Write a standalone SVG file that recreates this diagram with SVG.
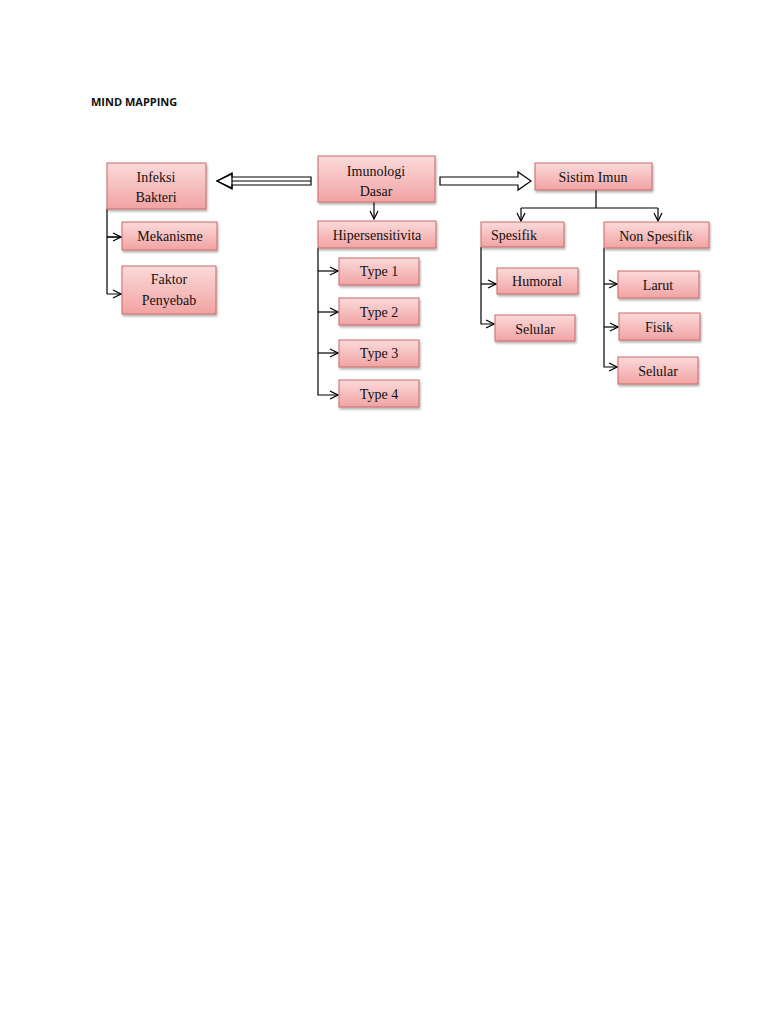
<svg xmlns="http://www.w3.org/2000/svg" width="768" height="1024" viewBox="0 0 768 1024">
<defs>
<linearGradient id="g" x1="0" y1="0" x2="0" y2="1"><stop offset="0" stop-color="#fbdada"/><stop offset="1" stop-color="#f2a3a3"/></linearGradient>
<marker id="a" markerWidth="10" markerHeight="10" refX="9" refY="5" orient="auto" markerUnits="userSpaceOnUse"><path d="M1,1 L9,5 L1,9" fill="none" stroke="#000" stroke-width="1.2"/></marker>
<filter id="s" x="-10%" y="-10%" width="130%" height="140%"><feDropShadow dx="1" dy="2" stdDeviation="1.2" flood-color="#000" flood-opacity="0.3"/></filter>
</defs>
<style>
.n rect{fill:url(#g);stroke:#c96a68;stroke-width:1;filter:url(#s)}
.n text{font-family:"Liberation Serif",serif;font-size:14px;fill:#111;text-anchor:middle}
.c path{fill:none;stroke:#000;stroke-width:1.2}
</style>
<rect width="768" height="1024" fill="#fff"/>
<text x="91" y="106" font-family="'Open Sans','Liberation Sans',sans-serif" font-size="11" font-weight="bold" fill="#111">MIND MAPPING</text>
<g class="c">
<path d="M107,209 V294 M107,237 H121 M107,294 H121" marker-end="url(#a)"/>
<path d="M107,237 H121" marker-end="url(#a)"/>
<path d="M374,202 V219" marker-end="url(#a)"/>
<path d="M318,248 V395 H338" marker-end="url(#a)"/>
<path d="M318,271 H338" marker-end="url(#a)"/>
<path d="M318,312 H338" marker-end="url(#a)"/>
<path d="M318,353 H338" marker-end="url(#a)"/>
<path d="M596,190 V208 M521,208 H658"/>
<path d="M521,208 V221" marker-end="url(#a)"/>
<path d="M658,208 V221" marker-end="url(#a)"/>
<path d="M481,247 V324 H494" marker-end="url(#a)"/>
<path d="M481,284 H496" marker-end="url(#a)"/>
<path d="M604,248 V367 H617" marker-end="url(#a)"/>
<path d="M604,284 H617" marker-end="url(#a)"/>
<path d="M604,327 H618" marker-end="url(#a)"/>
<path d="M311,181 H232 V174 L217,181 L232,188 V181" fill="#000" stroke="#000" stroke-width="0"/>
<path d="M311,177 H232 V173 L217,181 L232,189 V185 H311 Z" fill="#000" stroke="none"/>
<path d="M440,177 H518 V172 L531,181 L518,190 V185 H440 Z" fill="#000" stroke="none"/>
</g>
<g id="imunologi" class="n"><rect x="318" y="156" width="117" height="46"/><text x="376" y="176">Imunologi</text><text x="376" y="196">Dasar</text></g>
<g id="infeksi" class="n"><rect x="107" y="163" width="99" height="46"/><text x="156" y="182">Infeksi</text><text x="156" y="202">Bakteri</text></g>
<g id="mekanisme" class="n"><rect x="122" y="222" width="95" height="28"/><text x="170" y="241">Mekanisme</text></g>
<g id="faktor" class="n"><rect x="122" y="266" width="94" height="48"/><text x="169" y="284">Faktor</text><text x="169" y="305">Penyebab</text></g>
<g id="hiper" class="n"><rect x="318" y="221" width="118" height="27"/><text x="377" y="240">Hipersensitivita</text></g>
<g id="type1" class="n"><rect x="339" y="258" width="80" height="27"/><text x="379" y="276">Type 1</text></g>
<g id="type2" class="n"><rect x="339" y="298" width="80" height="27"/><text x="379" y="317">Type 2</text></g>
<g id="type3" class="n"><rect x="339" y="340" width="80" height="27"/><text x="379" y="358">Type 3</text></g>
<g id="type4" class="n"><rect x="339" y="380" width="80" height="27"/><text x="379" y="399">Type 4</text></g>
<g id="sistim" class="n"><rect x="535" y="163" width="117" height="27"/><text x="593" y="182">Sistim Imun</text></g>
<g id="spesifik" class="n"><rect x="481" y="222" width="83" height="25"/><text x="514" y="240">Spesifik</text></g>
<g id="nonspesifik" class="n"><rect x="604" y="222" width="105" height="26"/><text x="656" y="241">Non Spesifik</text></g>
<g id="humoral" class="n"><rect x="497" y="268" width="81" height="26"/><text x="537" y="286">Humoral</text></g>
<g id="selular1" class="n"><rect x="495" y="315" width="80" height="26"/><text x="535" y="334">Selular</text></g>
<g id="larut" class="n"><rect x="618" y="271" width="81" height="27"/><text x="658" y="290">Larut</text></g>
<g id="fisik" class="n"><rect x="619" y="313" width="81" height="27"/><text x="659" y="332">Fisik</text></g>
<g id="selular2" class="n"><rect x="618" y="357" width="80" height="27"/><text x="658" y="376">Selular</text></g>
</svg>
